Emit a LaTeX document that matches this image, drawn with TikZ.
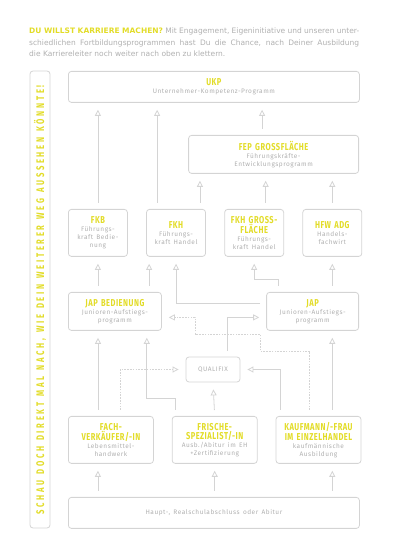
\documentclass[tikz,border=0pt]{standalone}
\usepackage{fontspec}
\setmainfont{Fira Sans}
\newfontfamily\introfont{DejaVu Sans}
\newfontfamily\headfont[FakeStretch=0.75,LetterSpace=5]{Fira Sans}
\newfontfamily\subfont[LetterSpace=8]{Fira Sans}
\newfontfamily\sidefont[FakeStretch=0.7,LetterSpace=24,WordSpace=1.35]{Fira Sans}
\usetikzlibrary{arrows.meta, positioning}
\definecolor{kyellow}{RGB}{226,220,40}
\definecolor{kgray}{RGB}{176,176,176}
\definecolor{kline}{RGB}{212,212,212}
\newcommand{\boxhead}[1]{{\headfont\bfseries\fontsize{10}{9.5}\selectfont\color{kyellow}#1\par}}
\newcommand{\boxsub}[1]{{\subfont\fontsize{6.5}{8}\selectfont\color{kgray}#1\par}}
\tikzset{box/.style={rectangle,draw=kline,line width=0.8pt,rounded corners=3pt,align=center,inner sep=0pt},line/.style={draw=kline,line width=0.8pt,-{Triangle[open,width=6pt,length=6pt]},shorten <=6pt,shorten >=7pt},dline/.style={line,dash pattern=on 1.6pt off 1.2pt}}

\begin{document}
\begin{tikzpicture}[x=1pt,y=1pt]
\useasboundingbox (0,0) rectangle (400,559);
\node[anchor=north west, text width=330pt, align=justify, inner sep=0pt, font=\introfont\fontsize{7.5}{11.5}\selectfont\color{kgray}] (intro) at (29,531) {{\bfseries\color{kyellow}DU WILLST KARRIERE MACHEN?} Mit Engagement, Eigeninitiative und unseren unter-\linebreak schiedlichen Fortbildungsprogrammen hast Du die Chance, nach Deiner Ausbildung\linebreak die Karriereleiter noch weiter nach oben zu klettern.};
\node[box, minimum width=20pt, minimum height=457pt] (side) at (40,259.5) {};
\node[rotate=90, inner sep=0pt, font=\sidefont\bfseries\fontsize{11}{11}\selectfont, text=kyellow] (sidetext) at (40,259) {SCHAU DOCH DIREKT MAL NACH, WIE DEIN WEITERER WEG AUSSEHEN KÖNNTE!};
% top
\node[box, anchor=north west, text width=291pt, minimum height=31pt] (ukp) at (68,488) {\boxhead{UKP}\boxsub{Unternehmer-Kompetenz-Programm}};
\node[box, anchor=north east, text width=170pt, minimum height=38pt] (fep) at (359,424) {\boxhead{FEP GROSSFLÄCHE}\boxsub{Führungskräfte-\\Entwicklungsprogramm}};
% row of four
\node[box, anchor=north west, text width=59pt, minimum height=47pt] (fkb) at (68,350) {\boxhead{FKB}\boxsub{Führungs-\\kraft Bedie-\\nung}};
\node[box, text width=59pt, minimum height=47pt, right=18.33pt of fkb] (fkh) {\boxhead{FKH}\boxsub{Führungs-\\kraft Handel}};
\node[box, text width=59pt, minimum height=47pt, right=18.33pt of fkh] (fkhg) {\boxhead{FKH GROSS-\\FLÄCHE}\boxsub{Führungs-\\kraft Handel}};
\node[box, text width=59pt, minimum height=47pt, right=18.33pt of fkhg] (hfw) {\boxhead{HFW ADG}\boxsub{Handels-\\fachwirt}};
% junioren
\node[box, anchor=north west, text width=93pt, minimum height=38pt] (japb) at (68,267) {\boxhead{JAP BEDIENUNG}\boxsub{Junioren-Aufstiegs-\\programm}};
\node[box, anchor=north east, text width=92pt, minimum height=38pt] (jap) at (359,267) {\boxhead{JAP}\boxsub{Junioren-Aufstiegs-\\programm}};
\node[box, text width=54pt, minimum height=25pt] (quali) at (213,189.5) {\boxsub{QUALIFIX}};
% ausbildung
\node[box, anchor=north west, text width=85pt, minimum height=47pt] (fach) at (68,143) {\boxhead{FACH-\\VERKÄUFER/-IN}\boxsub{Lebensmittel-\\handwerk}};
\node[box, text width=85pt, minimum height=47pt, right=18pt of fach] (frisch) {\boxhead{FRISCHE-\\SPEZIALIST/-IN}\boxsub{Ausb./Abitur im EH\\+Zertifizierung}};
\node[box, text width=85pt, minimum height=47pt, right=18pt of frisch] (kfm) {\boxhead{KAUFMANN/-FRAU\\IM EINZELHANDEL}\boxsub{kaufmännische\\Ausbildung}};
\node[box, anchor=north west, text width=291pt, minimum height=31pt] (start) at (68,62) {\boxsub{Haupt-, Realschulabschluss oder Abitur}};
% arrows up
\draw[line] (fkb.north) -- (fkb.north |- ukp.south);
\draw[line] ([xshift=11pt]fkh.north west) -- ([xshift=11pt]fkh.north west |- ukp.south);
\draw[line] ([xshift=-11.5pt]fep.north) -- ([xshift=-11.5pt]fep.north |- ukp.south);
\draw[line] ([xshift=-6pt]fkh.north east) -- ([xshift=-6pt]fkh.north east |- fep.south);
\draw[line] ([xshift=11.5pt]fkhg.north) -- ([xshift=11.5pt]fkhg.north |- fep.south);
\draw[line] (hfw.north) -- (hfw.north |- fep.south);
\draw[line] (fkb.south |- japb.north) -- (fkb.south);
\draw[line] ([xshift=3pt]fkh.south west |- japb.north) -- ([xshift=3pt]fkh.south west);
\draw[line] ([yshift=8pt]jap.west) -| (fkh.south);
\draw[line] ([xshift=12pt]jap.north west) -- ++(0,13) -| (fkhg.south);
\draw[line] (hfw.south |- jap.north) -- (hfw.south);
\draw[line] ([xshift=30pt]fach.north west) -- ([xshift=30pt]fach.north west |- japb.south);
\draw[line] ([xshift=4pt]frisch.north west) -- ++(0,18) -| ([xshift=-15pt]japb.south east);
\draw[dline] ([xshift=52pt]fach.north west) |- (quali.west);
\draw[line] (frisch.north) -- (quali.south);
\draw[line] ([xshift=5pt]kfm.north west) |- (quali.east);
\draw[line] ([xshift=14pt]quali.north) |- ([yshift=-6pt]jap.west);
\draw[dline] ([xshift=34pt]kfm.north west) |- (260,208) |- (195,225) |- ([yshift=-6pt]japb.east);
\draw[line] (kfm.north -| hfw.south) -- (jap.south -| hfw.south);
\draw[line] (start.north -| fkb.south) -- (fach.south -| fkb.south);
\draw[line] (start.north -| frisch.north) -- (frisch.south);
\draw[line] (start.north -| hfw.south) -- (kfm.south -| hfw.south);
\end{tikzpicture}
\end{document}
